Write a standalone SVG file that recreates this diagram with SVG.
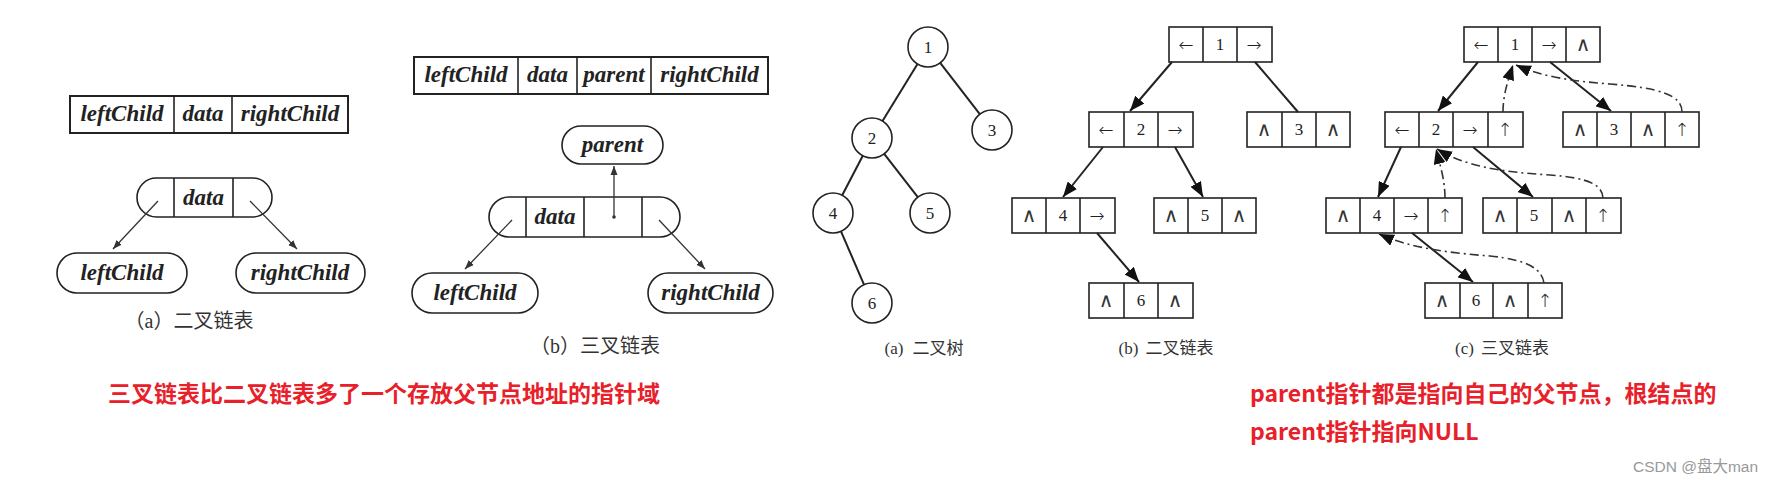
<svg xmlns="http://www.w3.org/2000/svg" width="1771" height="483" viewBox="0 0 1771 483">
<defs>
<style>
.bg{fill:#ffffff}
.box{fill:#ffffff;stroke:#222;stroke-width:1.6}
.tbl{fill:#ffffff;stroke:#222;stroke-width:2}
.div{stroke:#222;stroke-width:1.6}
.it{font-family:"Liberation Serif",serif;font-style:italic;font-weight:bold;font-size:23px;fill:#222;text-anchor:middle}
.num{font-family:"Liberation Serif",serif;font-size:17px;fill:#222;text-anchor:middle}
.sym{font-family:"DejaVu Sans",sans-serif;font-weight:200;font-size:18px;fill:#222;text-anchor:middle}
.nil{font-family:"DejaVu Sans",sans-serif;font-size:20px;fill:#333;text-anchor:middle}
.cap{font-family:"Liberation Serif","Noto Sans CJK SC",serif;font-size:20px;fill:#333;text-anchor:middle}
.cap2{font-family:"Liberation Serif","Noto Sans CJK SC",serif;font-size:17px;fill:#333;text-anchor:middle}
.thin{stroke:#333;stroke-width:1.3;fill:none}
.solid{stroke:#222;stroke-width:2;fill:none}
.dd{stroke:#333;stroke-width:1.6;fill:none;stroke-dasharray:9 4 2 4}
.circ{fill:#fff;stroke:#222;stroke-width:1.6}
.red{font-family:"Noto Sans CJK SC",sans-serif;font-weight:bold;font-size:23px;fill:#e8202a}
.wm{font-family:"Liberation Sans","Noto Sans CJK SC",sans-serif;font-size:15.5px;fill:#999}
</style>
<marker id="ms" markerWidth="10" markerHeight="8" refX="9" refY="4" orient="auto" markerUnits="userSpaceOnUse">
<path d="M0,0.5 L9,4 L0,7.5 Z" fill="#333"/>
</marker>
<marker id="mb" markerWidth="16" markerHeight="12" refX="15" refY="6" orient="auto" markerUnits="userSpaceOnUse">
<path d="M0,0 L15,6 L0,12 Z" fill="#111"/>
</marker>
</defs>
<rect class="bg" x="0" y="0" width="1771" height="483"/>

<!-- (a) binary linked list structure -->
<g id="a-table">
<rect class="tbl" x="70" y="96" width="278" height="37"/>
<line class="div" x1="174" y1="96" x2="174" y2="133"/>
<line class="div" x1="232" y1="96" x2="232" y2="133"/>
<text class="it" x="122" y="121">leftChild</text>
<text class="it" x="203" y="121">data</text>
<text class="it" x="290" y="121">rightChild</text>
</g>
<g id="a-node">
<rect class="box" x="137" y="178" width="135" height="39" rx="19.5"/>
<line class="div" x1="174" y1="178" x2="174" y2="217"/>
<line class="div" x1="233" y1="178" x2="233" y2="217"/>
<text class="it" x="203.5" y="205">data</text>
</g>
<g id="a-left">
<rect class="box" x="57" y="253" width="130" height="40" rx="20"/>
<text class="it" x="122" y="280">leftChild</text>
</g>
<g id="a-right">
<rect class="box" x="236" y="253" width="129" height="40" rx="20"/>
<text class="it" x="300" y="280">rightChild</text>
</g>
<text class="cap" x="189" y="328">（a）二叉链表</text>

<!-- (b) trident linked list structure -->
<g id="b-table">
<rect class="tbl" x="414" y="57" width="354" height="37"/>
<line class="div" x1="518" y1="57" x2="518" y2="94"/>
<line class="div" x1="577" y1="57" x2="577" y2="94"/>
<line class="div" x1="651" y1="57" x2="651" y2="94"/>
<text class="it" x="466" y="82">leftChild</text>
<text class="it" x="547.5" y="82">data</text>
<text class="it" x="614" y="82">parent</text>
<text class="it" x="709.5" y="82">rightChild</text>
</g>
<g id="b-parent">
<rect class="box" x="562" y="126" width="101" height="38" rx="19"/>
<text class="it" x="612.5" y="152">parent</text>
</g>
<g id="b-node">
<rect class="box" x="489" y="197" width="191" height="40" rx="20"/>
<line class="div" x1="526" y1="197" x2="526" y2="237"/>
<line class="div" x1="584" y1="197" x2="584" y2="237"/>
<line class="div" x1="642" y1="197" x2="642" y2="237"/>
<text class="it" x="555" y="224">data</text>
</g>
<g id="b-left">
<rect class="box" x="412" y="273" width="126" height="40" rx="20"/>
<text class="it" x="475" y="300">leftChild</text>
</g>
<g id="b-right">
<rect class="box" x="648" y="273" width="125" height="40" rx="20"/>
<text class="it" x="710.5" y="300">rightChild</text>
</g>
<text class="cap" x="595" y="353">（b）三叉链表</text>

<!-- (a) binary tree -->
<g id="t1"><circle class="circ" cx="928" cy="47" r="20"/><text class="num" x="928" y="53">1</text></g>
<g id="t2"><circle class="circ" cx="872" cy="138" r="20"/><text class="num" x="872" y="144">2</text></g>
<g id="t3"><circle class="circ" cx="992" cy="130" r="20"/><text class="num" x="992" y="136">3</text></g>
<g id="t4"><circle class="circ" cx="833" cy="213" r="20"/><text class="num" x="833" y="219">4</text></g>
<g id="t5"><circle class="circ" cx="930" cy="213" r="20"/><text class="num" x="930" y="219">5</text></g>
<g id="t6"><circle class="circ" cx="872" cy="303" r="20"/><text class="num" x="872" y="309">6</text></g>
<text class="cap2" x="924" y="354">(a)<tspan dx="9">二叉树</tspan></text>

<!-- (b) binary linked list -->
<g id="bl1">
<rect class="box" x="1169" y="27" width="103" height="35"/>
<line class="div" x1="1203" y1="27" x2="1203" y2="62"/><line class="div" x1="1237" y1="27" x2="1237" y2="62"/>
<text class="sym" x="1186" y="51">←</text><text class="num" x="1220" y="50">1</text><text class="sym" x="1254" y="51">→</text>
</g>
<g id="bl2">
<rect class="box" x="1089" y="112" width="104" height="35"/>
<line class="div" x1="1124" y1="112" x2="1124" y2="147"/><line class="div" x1="1158" y1="112" x2="1158" y2="147"/>
<text class="sym" x="1106" y="136">←</text><text class="num" x="1141" y="135">2</text><text class="sym" x="1175" y="136">→</text>
</g>
<g id="bl3">
<rect class="box" x="1247" y="112" width="103" height="35"/>
<line class="div" x1="1282" y1="112" x2="1282" y2="147"/><line class="div" x1="1316" y1="112" x2="1316" y2="147"/>
<text class="nil" x="1264" y="136">∧</text><text class="num" x="1299" y="135">3</text><text class="nil" x="1333" y="136">∧</text>
</g>
<g id="bl4">
<rect class="box" x="1012" y="198" width="103" height="35"/>
<line class="div" x1="1046" y1="198" x2="1046" y2="233"/><line class="div" x1="1080" y1="198" x2="1080" y2="233"/>
<text class="nil" x="1029" y="222">∧</text><text class="num" x="1063" y="221">4</text><text class="sym" x="1097" y="222">→</text>
</g>
<g id="bl5">
<rect class="box" x="1154" y="198" width="102" height="35"/>
<line class="div" x1="1188" y1="198" x2="1188" y2="233"/><line class="div" x1="1222" y1="198" x2="1222" y2="233"/>
<text class="nil" x="1171" y="222">∧</text><text class="num" x="1205" y="221">5</text><text class="nil" x="1239" y="222">∧</text>
</g>
<g id="bl6">
<rect class="box" x="1089" y="283" width="104" height="35"/>
<line class="div" x1="1124" y1="283" x2="1124" y2="318"/><line class="div" x1="1158" y1="283" x2="1158" y2="318"/>
<text class="nil" x="1106" y="307">∧</text><text class="num" x="1141" y="306">6</text><text class="nil" x="1175" y="307">∧</text>
</g>
<text class="cap2" x="1166" y="354">(b)<tspan dx="7">二叉链表</tspan></text>

<!-- (c) trident linked list -->
<g id="cl1">
<rect class="box" x="1464" y="27" width="136" height="35"/>
<line class="div" x1="1498" y1="27" x2="1498" y2="62"/><line class="div" x1="1532" y1="27" x2="1532" y2="62"/><line class="div" x1="1566" y1="27" x2="1566" y2="62"/>
<text class="sym" x="1481" y="51">←</text><text class="num" x="1515" y="50">1</text><text class="sym" x="1549" y="51">→</text><text class="nil" x="1583" y="51">∧</text>
</g>
<g id="cl2">
<rect class="box" x="1385" y="112" width="138" height="35"/>
<line class="div" x1="1419" y1="112" x2="1419" y2="147"/><line class="div" x1="1453" y1="112" x2="1453" y2="147"/><line class="div" x1="1488" y1="112" x2="1488" y2="147"/>
<text class="sym" x="1402" y="136">←</text><text class="num" x="1436" y="135">2</text><text class="sym" x="1470" y="136">→</text><text class="sym" x="1505" y="136">↑</text>
</g>
<g id="cl3">
<rect class="box" x="1563" y="112" width="136" height="35"/>
<line class="div" x1="1597" y1="112" x2="1597" y2="147"/><line class="div" x1="1631" y1="112" x2="1631" y2="147"/><line class="div" x1="1665" y1="112" x2="1665" y2="147"/>
<text class="nil" x="1580" y="136">∧</text><text class="num" x="1614" y="135">3</text><text class="nil" x="1648" y="136">∧</text><text class="sym" x="1682" y="136">↑</text>
</g>
<g id="cl4">
<rect class="box" x="1326" y="198" width="136" height="35"/>
<line class="div" x1="1360" y1="198" x2="1360" y2="233"/><line class="div" x1="1394" y1="198" x2="1394" y2="233"/><line class="div" x1="1428" y1="198" x2="1428" y2="233"/>
<text class="nil" x="1343" y="222">∧</text><text class="num" x="1377" y="221">4</text><text class="sym" x="1411" y="222">→</text><text class="sym" x="1445" y="222">↑</text>
</g>
<g id="cl5">
<rect class="box" x="1483" y="198" width="138" height="35"/>
<line class="div" x1="1517" y1="198" x2="1517" y2="233"/><line class="div" x1="1552" y1="198" x2="1552" y2="233"/><line class="div" x1="1586" y1="198" x2="1586" y2="233"/>
<text class="nil" x="1500" y="222">∧</text><text class="num" x="1534" y="221">5</text><text class="nil" x="1569" y="222">∧</text><text class="sym" x="1603" y="222">↑</text>
</g>
<g id="cl6">
<rect class="box" x="1425" y="283" width="137" height="35"/>
<line class="div" x1="1460" y1="283" x2="1460" y2="318"/><line class="div" x1="1493" y1="283" x2="1493" y2="318"/><line class="div" x1="1528" y1="283" x2="1528" y2="318"/>
<text class="nil" x="1442" y="307">∧</text><text class="num" x="1476" y="306">6</text><text class="nil" x="1510" y="307">∧</text><text class="sym" x="1545" y="307">↑</text>
</g>
<text class="cap2" x="1502" y="354">(c)<tspan dx="7">三叉链表</tspan></text>

<!-- connectors -->
<g id="connectors">
<line class="thin" x1="158" y1="201" x2="113" y2="249" marker-end="url(#ms)"/>
<line class="thin" x1="250" y1="201" x2="297" y2="249" marker-end="url(#ms)"/>
<line class="thin" x1="512" y1="220" x2="465" y2="269" marker-end="url(#ms)"/>
<line class="thin" x1="659" y1="220" x2="705" y2="269" marker-end="url(#ms)"/>
<line class="thin" x1="614" y1="217" x2="614" y2="166" marker-end="url(#ms)"/>
<circle cx="614" cy="217" r="1.8" fill="#333"/>

<line class="solid" x1="917.5" y1="64" x2="882.5" y2="121"/>
<line class="solid" x1="940.2" y1="62.8" x2="979.8" y2="114.2"/>
<line class="solid" x1="862.8" y1="155.7" x2="842.2" y2="195.3"/>
<line class="solid" x1="884.2" y1="153.8" x2="917.8" y2="197.2"/>
<line class="solid" x1="841" y1="231.3" x2="864" y2="284.7"/>

<line class="solid" x1="1172" y1="62" x2="1130" y2="111" marker-end="url(#mb)"/>
<line class="solid" x1="1255" y1="62" x2="1298" y2="112"/>
<line class="solid" x1="1103" y1="147" x2="1063" y2="197" marker-end="url(#mb)"/>
<line class="solid" x1="1175" y1="147" x2="1203" y2="197" marker-end="url(#mb)"/>
<line class="solid" x1="1097" y1="233" x2="1139" y2="282" marker-end="url(#mb)"/>

<line class="solid" x1="1478" y1="62" x2="1438" y2="111" marker-end="url(#mb)"/>
<line class="solid" x1="1550" y1="62" x2="1611" y2="111" marker-end="url(#mb)"/>
<line class="solid" x1="1401" y1="147" x2="1378" y2="197" marker-end="url(#mb)"/>
<line class="solid" x1="1473" y1="147" x2="1533" y2="197" marker-end="url(#mb)"/>
<line class="solid" x1="1412" y1="233" x2="1473" y2="282" marker-end="url(#mb)"/>

<path class="dd" d="M1503,112 C1503,95 1508,80 1513,65" marker-end="url(#mb)"/>
<path class="dd" d="M1682,112 C1682,95 1660,88 1610,84 C1570,81 1540,76 1516,65" marker-end="url(#mb)"/>
<path class="dd" d="M1445,198 C1445,180 1440,165 1436,149" marker-end="url(#mb)"/>
<path class="dd" d="M1603,198 C1602,185 1590,178 1550,175 C1500,172 1465,166 1437,149" marker-end="url(#mb)"/>
<path class="dd" d="M1544,283 C1542,270 1530,260 1490,256 C1450,253 1410,248 1379,234" marker-end="url(#mb)"/>
</g>

<text class="red" x="108" y="402">三叉链表比二叉链表多了一个存放父节点地址的指针域</text>
<text class="red" x="1250" y="402">parent指针都是指向自己的父节点，根结点的</text>
<text class="red" x="1250" y="440">parent指针指向NULL</text>
<text class="wm" x="1633" y="472">CSDN @盘大man</text>
</svg>
